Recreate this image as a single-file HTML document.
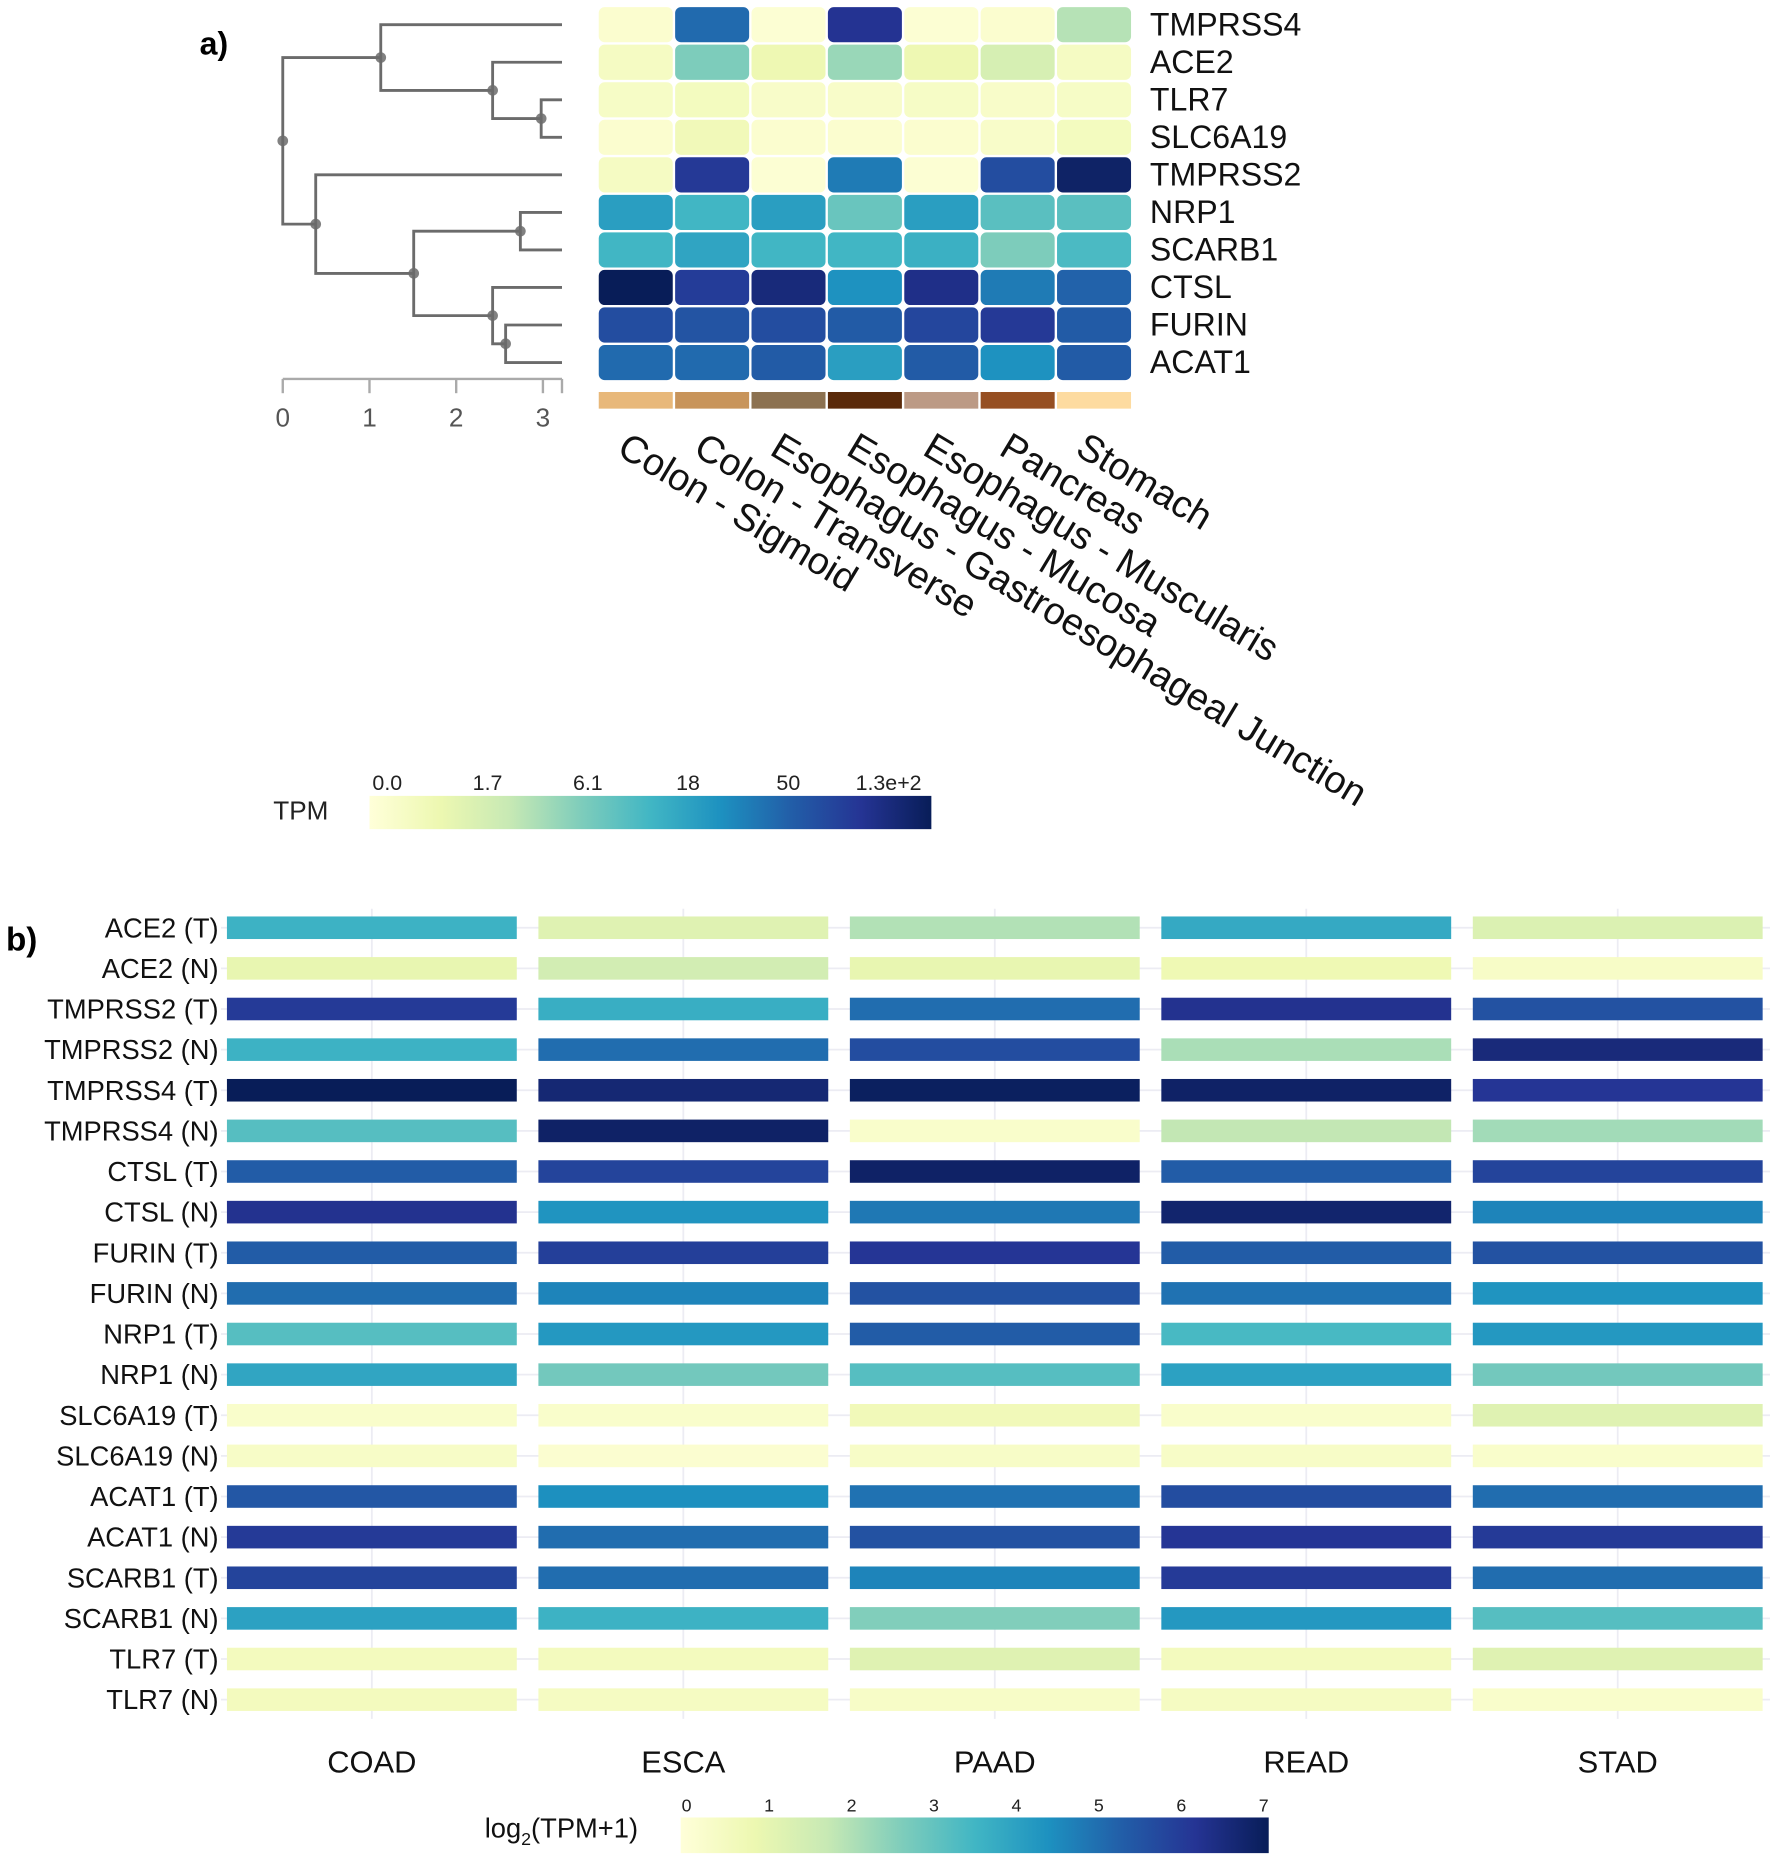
<!DOCTYPE html>
<html><head><meta charset="utf-8"><style>
html,body{margin:0;padding:0;background:#fff}
svg{display:block}
text{font-family:"Liberation Sans","DejaVu Sans",sans-serif}
</style></head><body>
<svg id="fig" xmlns="http://www.w3.org/2000/svg" width="1776" height="1865" viewBox="0 0 1495 1570">
<defs>
<linearGradient id="ylgnbu" x1="0" x2="1" y1="0" y2="0">
<stop offset="0" stop-color="#ffffd9"/><stop offset="0.125" stop-color="#edf8b1"/><stop offset="0.25" stop-color="#c7e9b4"/><stop offset="0.375" stop-color="#7fcdbb"/><stop offset="0.5" stop-color="#41b6c4"/><stop offset="0.625" stop-color="#1d91c0"/><stop offset="0.75" stop-color="#225ea8"/><stop offset="0.875" stop-color="#253494"/><stop offset="1" stop-color="#081d58"/>
</linearGradient>
</defs>
<text x="168" y="46" font-size="27" font-weight="bold">a)</text>
<text x="5" y="800" font-size="28" font-weight="bold">b)</text>
<g id="dendro"></g>
<g id="heatA"></g>
<g id="heatB"></g>
</svg>
<script>
const NS='http://www.w3.org/2000/svg';
const genesA=['TMPRSS4','ACE2','TLR7','SLC6A19','TMPRSS2','NRP1','SCARB1','CTSL','FURIN','ACAT1'];
const tissues=['Colon - Sigmoid','Colon - Transverse','Esophagus - Gastroesophageal Junction','Esophagus - Mucosa','Esophagus - Muscularis','Pancreas','Stomach'];
const tissueColors=['#e8b87a','#c8945a','#8c7150','#5a2a0a','#bc9a85','#964f22','#fddba0'];
const valuesA=[
[0.03,0.72,0.02,0.88,0.02,0.03,0.28],
[0.07,0.38,0.12,0.33,0.12,0.2,0.07],
[0.06,0.08,0.05,0.05,0.06,0.05,0.06],
[0.03,0.1,0.03,0.03,0.03,0.05,0.08],
[0.07,0.86,0.02,0.68,0.02,0.8,0.97],
[0.58,0.5,0.58,0.42,0.58,0.45,0.45],
[0.5,0.56,0.5,0.5,0.52,0.38,0.48],
[1.0,0.85,0.93,0.62,0.9,0.68,0.74],
[0.8,0.78,0.8,0.76,0.82,0.86,0.76],
[0.72,0.72,0.76,0.58,0.76,0.62,0.76]];
const tpmTicks=['0.0','1.7','6.1','18','50','1.3e+2'];
const dendroTicks=[0,1,2,3];
const dendroNodes={C:[2.98,2,3],B:[2.42,1,'C'],A:[1.13,0,'B'],F:[2.74,5,6],H:[2.57,8,9],G:[2.42,7,'H'],E:[1.51,'F','G'],D:[0.38,4,'E'],R:[0,'A','D']};
const rowsB=['ACE2 (T)','ACE2 (N)','TMPRSS2 (T)','TMPRSS2 (N)','TMPRSS4 (T)','TMPRSS4 (N)','CTSL (T)','CTSL (N)','FURIN (T)','FURIN (N)','NRP1 (T)','NRP1 (N)','SLC6A19 (T)','SLC6A19 (N)','ACAT1 (T)','ACAT1 (N)','SCARB1 (T)','SCARB1 (N)','TLR7 (T)','TLR7 (N)'];
const cancers=['COAD','ESCA','PAAD','READ','STAD'];
const coadVals=[3.6,1.0,6.0,3.6,7.0,3.2,5.3,6.2,5.3,5.0,3.2,3.9,0.3,0.4,5.4,6.0,5.8,4.0,0.6,0.6];
const escaVals=[1.2,1.5,3.7,5.0,6.6,6.8,5.8,4.3,5.9,4.6,4.2,2.8,0.3,0.2,4.4,5.0,5.0,3.6,0.6,0.5];
const paadVals=[2.0,1.0,5.0,5.6,6.9,0.3,6.8,4.8,6.1,5.5,5.3,3.2,0.7,0.4,4.9,5.5,4.6,2.6,1.2,0.4];
const readVals=[3.8,0.8,6.2,2.1,6.8,1.8,5.3,6.7,5.3,4.9,3.4,4.0,0.3,0.4,5.6,6.1,6.0,4.2,0.6,0.5];
const stadVals=[1.3,0.4,5.5,6.5,6.1,2.2,5.8,4.6,5.5,4.3,4.2,2.8,1.2,0.3,5.0,6.0,5.0,3.2,1.2,0.3];
const log2Ticks=[0,1,2,3,4,5,6,7];

const pal=['#ffffd9','#edf8b1','#c7e9b4','#7fcdbb','#41b6c4','#1d91c0','#225ea8','#253494','#081d58'];
function col(t){t=Math.max(0,Math.min(1,t));const p=t*(pal.length-1);const i=Math.min(pal.length-2,Math.floor(p));const f=p-i;
const a=pal[i],b=pal[i+1];const h=(s,k)=>parseInt(s.substr(1+2*k,2),16);
return 'rgb('+[0,1,2].map(k=>Math.round(h(a,k)+(h(b,k)-h(a,k))*f)).join(',')+')';}
function mk(tag,attrs,parent,txt){const e=document.createElementNS(NS,tag);for(const k in attrs)e.setAttribute(k,attrs[k]);if(txt!==undefined)e.textContent=txt;parent.appendChild(e);return e;}

const hA=document.getElementById('heatA');
const ax0=503,aCw=64.3,ay0=5,aRh=31.6;
const xA=j=>ax0+j*aCw, yA=i=>ay0+i*aRh;
valuesA.forEach((row,i)=>row.forEach((v,j)=>{
 const r=mk('rect',{x:xA(j)+1,y:yA(i)+1,width:aCw-2,height:aRh-2,rx:5,fill:col(v)},hA);
 
 
}));
genesA.forEach((g,i)=>{const t=mk('text',{x:968,y:yA(i)+aRh/2+9,'font-size':27,fill:'#111'},hA,g);
 });
tissues.forEach((n,j)=>{
 const r=mk('rect',{x:xA(j)+1,y:330,width:aCw-2,height:14,fill:tissueColors[j]},hA);
 
 const cx=xA(j)+aCw/2-17, cy=382;
 const t=mk('text',{x:cx,y:cy,'font-size':32,fill:'#111',transform:'rotate(31 '+cx+' '+cy+')'},hA,n);
 
});
mk('text',{x:230,y:690,'font-size':22,fill:'#222'},hA,'TPM');
const lg=mk('rect',{x:311,y:670,width:473,height:28,fill:'url(#ylgnbu)'},hA);

tpmTicks.forEach((s,k)=>{const t=mk('text',{x:326+k*(474-52)/5,y:665,'font-size':18,fill:'#222','text-anchor':'middle'},hA,s);
 });

const dg=document.getElementById('dendro');
const dx=h=>238+h*73, leafX=dx(3.22);
function nodePos(k){if(typeof k==='number')return {x:leafX,y:yA(k)+aRh/2};const n=dendroNodes[k];const a=nodePos(n[1]),b=nodePos(n[2]);return {x:dx(n[0]),y:(a.y+b.y)/2,a,b};}
const lineSt={stroke:'#6b6b6b','stroke-width':2.4,fill:'none'};
Object.keys(dendroNodes).forEach(k=>{const p=nodePos(k);
 const l=mk('path',Object.assign({d:'M'+p.a.x+' '+p.a.y+'H'+p.x+'V'+p.b.y+'H'+p.b.x},lineSt),dg);
 
 const c=mk('circle',{cx:p.x,cy:p.y,r:4.5,fill:'#6b6b6b','fill-opacity':0.85},dg);
 
});
mk('line',{x1:dx(0),x2:leafX,y1:319,y2:319,stroke:'#aaa','stroke-width':2},dg);
dendroTicks.concat([3.22]).forEach(v=>mk('line',{x1:dx(v),x2:dx(v),y1:319,y2:331,stroke:'#aaa','stroke-width':2},dg));
dendroTicks.forEach(v=>{const t=mk('text',{x:dx(v),y:359,'font-size':22,fill:'#555','text-anchor':'middle'},dg,String(v));
 });

const hB=document.getElementById('heatB');
const seriesB=[coadVals,escaVals,paadVals,readVals,stadVals];
const bx0=191,bCw=262.2,bW=244,by0=781,bRh=34.2,bH=19;
const xB=j=>bx0+j*bCw, yB=i=>by0+i*bRh, vB=v=>v/7;
rowsB.forEach((r,i)=>mk('line',{x1:186,x2:1490,y1:yB(i),y2:yB(i),stroke:'#ececf3','stroke-width':1.5},hB));
cancers.forEach((c,j)=>mk('line',{x1:xB(j)+bW/2,x2:xB(j)+bW/2,y1:765,y2:1447,stroke:'#ececf3','stroke-width':1.5},hB));
seriesB.forEach((vals,j)=>vals.forEach((v,i)=>{
 const r=mk('rect',{x:xB(j),y:yB(i)-bH/2,width:bW,height:bH,fill:col(vB(v))},hB);
 
 
}));
rowsB.forEach((r,i)=>{const t=mk('text',{x:184,y:yB(i)+8,'font-size':23,fill:'#111','text-anchor':'end'},hB,r);
 });
cancers.forEach((c,j)=>{const t=mk('text',{x:xB(j)+bW/2,y:1492,'font-size':26,fill:'#111','text-anchor':'middle'},hB,c);
 });
const lt=mk('text',{x:408,y:1547,'font-size':23,fill:'#111'},hB);

lt.innerHTML='log<tspan font-size="15" dy="6">2</tspan><tspan dy="-6">(TPM+1)</tspan>';
const lb=mk('rect',{x:573,y:1530,width:495,height:30,fill:'url(#ylgnbu)'},hB);

log2Ticks.forEach(v=>{const t=mk('text',{x:578+v*69.4,y:1525,'font-size':15,fill:'#222','text-anchor':'middle'},hB,String(v));
 });
</script>
</body></html>
